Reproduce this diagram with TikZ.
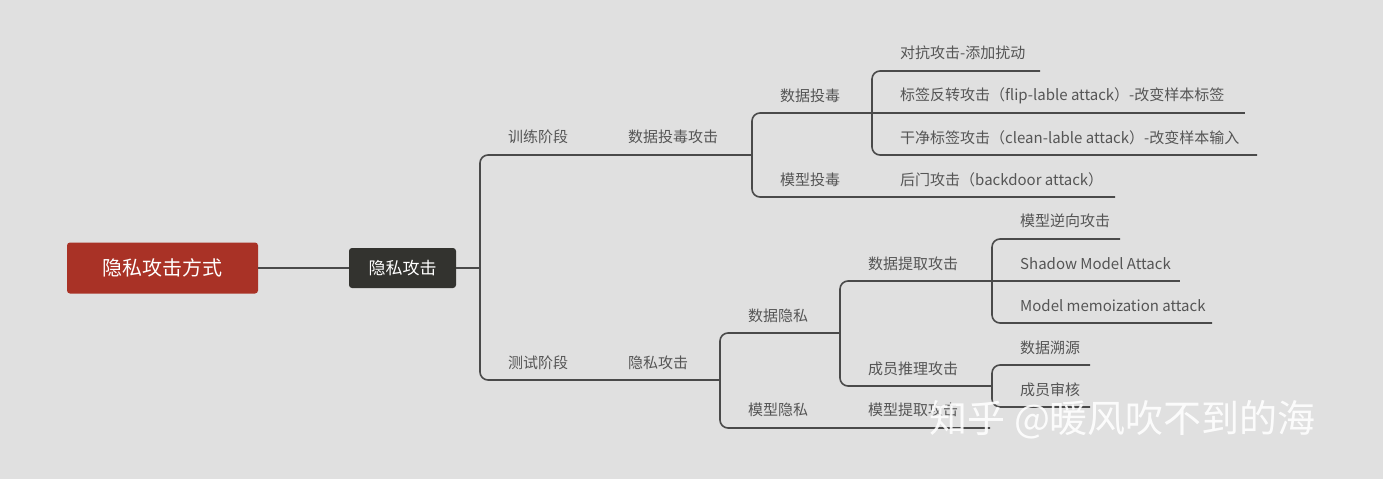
\documentclass[tikz,border=0pt]{standalone}
\usepackage{fontspec}
\setmainfont{Noto Sans CJK SC}
\usetikzlibrary{positioning}
\definecolor{bgc}{HTML}{E0E0E0}
\definecolor{rootc}{HTML}{A93226}
\definecolor{darkc}{HTML}{33332F}
\definecolor{linec}{HTML}{4A4A4A}
\definecolor{txtc}{HTML}{555555}
\begin{document}
\begin{tikzpicture}[x=1pt,y=-1pt]
  \tikzset{root/.style = {fill=rootc,rounded corners=3pt,text=white,font=\fontsize{20}{24}\selectfont,minimum width=191pt,minimum height=51pt,inner sep=0pt}}
  \tikzset{main/.style = {fill=darkc,rounded corners=3pt,text=white,font=\fontsize{17}{20}\selectfont,minimum width=107pt,minimum height=40pt,inner sep=0pt}}
  \tikzset{lbl/.style = {anchor=west,text=txtc,font=\fontsize{15}{18}\selectfont,inner sep=0pt}}
  \tikzset{link/.style = {draw=linec,line width=1.6pt,rounded corners=8pt}}
  \fill[bgc] (0,0) rectangle (1383,479);
  \useasboundingbox (0,0) rectangle (1383,479);

  % nodes
  \node[root] (r) at (162.5,268) {隐私攻击方式};
  \node[main] (m) at (402.5,268) {隐私攻击};

  \node[lbl] (t1) at (508,137) {训练阶段};
  \node[lbl] (t2) at (628,137) {数据投毒攻击};
  \node[lbl] (p1) at (780,96) {数据投毒};
  \node[lbl] (p2) at (780,180) {模型投毒};
  \node[lbl] (a1) at (900,53) {对抗攻击-添加扰动};
  \node[lbl] (a2) at (900,96) {标签反转攻击（flip-lable attack）-改变样本标签};
  \node[lbl] (a3) at (900,138) {干净标签攻击（clean-lable attack）-改变样本输入};
  \node[lbl] (a4) at (900,180) {后门攻击（backdoor attack）};

  \node[lbl] (s1) at (508,363) {测试阶段};
  \node[lbl] (s2) at (628,363) {隐私攻击};
  \node[lbl] (q1) at (748,316) {数据隐私};
  \node[lbl] (q2) at (748,410) {模型隐私};
  \node[lbl] (q3) at (868,410) {模型提取攻击};
  \node[lbl] (d1) at (868,264) {数据提取攻击};
  \node[lbl] (d2) at (868,369) {成员推理攻击};
  \node[lbl] (e1) at (1020,221) {模型逆向攻击};
  \node[lbl] (e2) at (1020,264) {Shadow Model Attack};
  \node[lbl] (e3) at (1020,306) {Model memoization attack};
  \node[lbl] (e4) at (1020,348) {数据溯源};
  \node[lbl] (e5) at (1020,390) {成员审核};

  % joints and ends
  \coordinate (j0) at (480,268);
  \coordinate (j1) at (752,155);
  \coordinate (j2) at (872,113);
  \coordinate (j3) at (720,380);
  \coordinate (j4) at (840,333);
  \coordinate (j5) at (992,281);
  \coordinate (j6) at (992,386);
  \coordinate (ea1) at (1040,71);
  \coordinate (ea2) at (1245,113);
  \coordinate (ea3) at (1257,155);
  \coordinate (ea4) at (1115,197);
  \coordinate (eq2) at (990,428);
  \coordinate (ee1) at (1120,239);
  \coordinate (ee2) at (1180,281);
  \coordinate (ee3) at (1212,323);
  \coordinate (ee4) at (1090,365);
  \coordinate (ee5) at (1090,407);

  % edges
  \draw[link] (r.east) -- (m.west);
  \draw[link] (m.east) -- (j0);
  \draw[link] (j0) |- (j1);
  \draw[link] (j0) |- (j3);
  \draw[link] (j1) |- (j2);
  \draw[link] (j1) |- (ea4);
  \draw[link] (j2) |- (ea1);
  \draw[link] (j2) -- (ea2);
  \draw[link] (j2) |- (ea3);
  \draw[link] (j3) |- (j4);
  \draw[link] (j3) |- (eq2);
  \draw[link] (j4) |- (j5);
  \draw[link] (j4) |- (j6);
  \draw[link] (j5) |- (ee1);
  \draw[link] (j5) -- (ee2);
  \draw[link] (j5) |- (ee3);
  \draw[link] (j6) |- (ee4);
  \draw[link] (j6) |- (ee5);

  \node[text=white,opacity=0.9,font=\fontsize{38}{44}\selectfont,anchor=west] (wm) at (926,420) {知乎 @暖风吹不到的海};
\end{tikzpicture}
\end{document}
